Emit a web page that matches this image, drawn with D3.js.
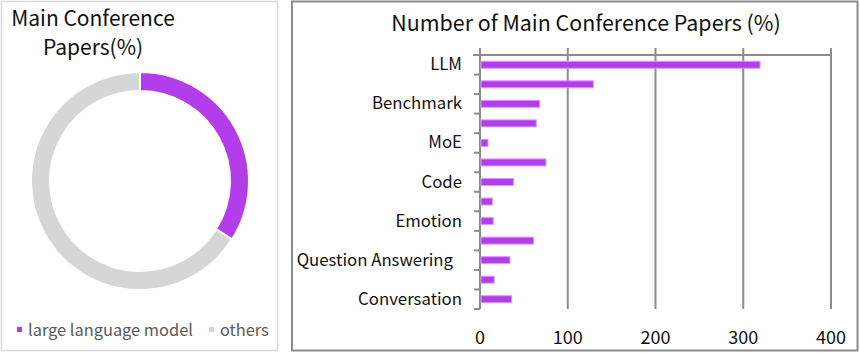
<!DOCTYPE html>
<html>
<head>
<meta charset="utf-8">
<script src="https://cdn.jsdelivr.net/npm/d3@7"></script>
<style>
  body { margin: 0; background: #fff; }
  svg text { font-family: "Noto Sans CJK KR", "Noto Sans", sans-serif; }
</style>
</head>
<body>
<svg id="chart" width="860" height="353"></svg>
<script>
// donut data
let pieLabels = ['large language model', 'others'];
let pieValues = [34, 66];
let pieColors = ['#b33deb', '#d6d6d6'];

// bar data (only every other category label is shown in the original)
let barLabels = ['LLM', '', 'Benchmark', '', 'MoE', '', 'Code', '', 'Emotion', '', 'Question Answering', '', 'Conversation'];
let barValues = [318, 128, 67, 63, 8, 74, 37, 13, 14, 60, 33, 15, 35];
let xTicks = [0, 100, 200, 300, 400];

let svg = d3.select('#chart');
let axisColor = '#8c8c8c';

// ---------- left panel ----------
svg.append('rect')
    .attr('x', 1.5).attr('y', 1.5).attr('width', 276).attr('height', 349)
    .attr('fill', 'none').attr('stroke', '#d9d9d9').attr('stroke-width', 1.5);

let pieTitle = svg.append('text')
    .attr('text-anchor', 'middle')
    .style('font-size', '21px')
    .attr('fill', '#111');
pieTitle.append('tspan').attr('x', 93).attr('y', 26).text('Main Conference');
pieTitle.append('tspan').attr('x', 93).attr('y', 55).text('Papers(%)');

let pie = d3.pie().sort(null).value(d => d);
let arc = d3.arc().innerRadius(90).outerRadius(109);
let pieG = svg.append('g').attr('transform', 'translate(140, 181)');
pieG.selectAll('path')
    .data(pie(pieValues))
    .enter()
    .append('path')
    .attr('d', arc)
    .attr('fill', (d, i) => pieColors[i])
    .attr('stroke', '#fff')
    .attr('stroke-width', 2);

// legend
let legendX = [17, 209];
let legend = svg.append('g');
legend.selectAll('rect')
    .data(pieLabels)
    .enter()
    .append('rect')
    .attr('x', (d, i) => legendX[i])
    .attr('y', 327)
    .attr('width', 5).attr('height', 5)
    .attr('fill', (d, i) => pieColors[i]);
legend.selectAll('text')
    .data(pieLabels)
    .enter()
    .append('text')
    .attr('x', (d, i) => legendX[i] + 11)
    .attr('y', 336)
    .style('font-size', '16.4px')
    .attr('fill', '#595959')
    .text(d => d);

// ---------- right panel ----------
svg.append('rect')
    .attr('x', 292).attr('y', 1.5).attr('width', 565.5).attr('height', 349)
    .attr('fill', 'none').attr('stroke', axisColor).attr('stroke-width', 2);

svg.append('text')
    .attr('x', 586).attr('y', 31)
    .attr('text-anchor', 'middle')
    .style('font-size', '21.4px')
    .attr('fill', '#111')
    .text('Number of Main Conference Papers (%)');

let plot = {l: 480, t: 55, r: 831, b: 309};
let xScale = d3.scaleLinear().domain([0, 400]).range([plot.l, plot.r]);
let yScale = d3.scaleBand().domain(d3.range(barLabels.length)).range([plot.t, plot.b]);

// gridlines (extend above the top line as ticks)
svg.append('g')
    .selectAll('line')
    .data(xTicks)
    .enter()
    .append('line')
    .attr('x1', d => xScale(d)).attr('x2', d => xScale(d))
    .attr('y1', plot.t - 7).attr('y2', plot.b)
    .attr('stroke', axisColor).attr('stroke-width', 2);

// top axis line
svg.append('line')
    .attr('x1', plot.l - 7).attr('x2', plot.r)
    .attr('y1', plot.t).attr('y2', plot.t)
    .attr('stroke', axisColor).attr('stroke-width', 2);

// left category axis with ticks at band boundaries
let boundaries = d3.range(barLabels.length + 1).map(i => plot.t + i * yScale.step());
svg.append('g')
    .selectAll('line')
    .data(boundaries.slice(1))
    .enter()
    .append('line')
    .attr('x1', plot.l - 6).attr('x2', plot.l)
    .attr('y1', d => d).attr('y2', d => d)
    .attr('stroke', axisColor).attr('stroke-width', 2);
svg.append('line')
    .attr('x1', plot.l).attr('x2', plot.l)
    .attr('y1', plot.t).attr('y2', plot.b)
    .attr('stroke', axisColor).attr('stroke-width', 2);

// bars
let barH = 7;
svg.append('g')
    .selectAll('rect')
    .data(barValues)
    .enter()
    .append('rect')
    .attr('x', xScale(0) + 1)
    .attr('y', (d, i) => yScale(i) + yScale.bandwidth() / 2 - barH / 2)
    .attr('width', d => xScale(d) - xScale(0))
    .attr('height', barH)
    .attr('fill', '#b33deb')
    .attr('stroke', '#d99cf6')
    .attr('stroke-width', 1);

// category labels
svg.append('g')
    .selectAll('text')
    .data(barLabels)
    .enter()
    .append('text')
    .attr('x', (d, i) => d === 'Question Answering' ? 453 : 462)
    .attr('y', (d, i) => yScale(i) + yScale.bandwidth() / 2)
    .attr('dy', '0.33em')
    .attr('text-anchor', 'end')
    .style('font-size', '16.8px')
    .attr('fill', '#111')
    .text(d => d);

// x tick labels at the bottom
svg.append('g')
    .selectAll('text')
    .data(xTicks)
    .enter()
    .append('text')
    .attr('x', d => xScale(d))
    .attr('y', 344)
    .attr('text-anchor', 'middle')
    .style('font-size', '18px')
    .attr('fill', '#111')
    .text(d => d);
</script>
</body>
</html>
